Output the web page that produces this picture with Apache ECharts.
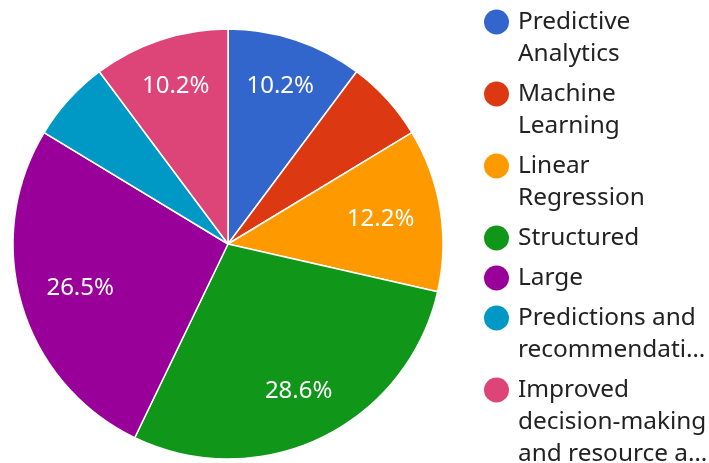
<!DOCTYPE html>
<html>
<head>
<meta charset="utf-8">
<script src="https://cdn.jsdelivr.net/npm/echarts@6/dist/echarts.min.js"></script>
<style>html,body{margin:0;padding:0;background:#fff;}#c{width:709px;height:463px;}</style>
</head>
<body>
<div id="c"></div>
<script>
var categories = ['Predictive Analytics', 'Machine Learning', 'Linear Regression', 'Structured', 'Large', 'Predictions and recommendations', 'Improved decision-making and resource allocation'];
var values = [5, 3, 6, 14, 13, 3, 5];
var legendLines = [
  ['Predictive', 'Analytics'],
  ['Machine', 'Learning'],
  ['Linear', 'Regression'],
  ['Structured'],
  ['Large'],
  ['Predictions and', 'recommendati\u2026'],
  ['Improved', 'decision-making', 'and resource a\u2026']
];
var colors = ['#3366cc', '#dc3912', '#ff9900', '#109618', '#990099', '#0099c6', '#dd4477'];

var FONT = '"Noto Sans", sans-serif';
var CX = 228, CY = 244, R = 215;
var total = values.reduce(function (a, b) { return a + b; }, 0);
var data = categories.map(function (c, i) { return { name: c, value: values[i] }; });

var rich = {
  g: { width: 9, height: 25 },
  i: { width: 34, height: 25 },
  t: { fontSize: 24.4, lineHeight: 32, color: '#222222', fontFamily: FONT }
};
colors.forEach(function (c, i) {
  rich['d' + i] = { width: 25, height: 25, borderRadius: 12.5, backgroundColor: c };
});

var chart = echarts.init(document.getElementById('c'), null, { renderer: 'canvas' });
chart.setOption({
  animation: false,
  color: colors,
  legend: {
    orient: 'vertical',
    left: 478,
    top: 6,
    height: 800,
    padding: 0,
    itemGap: 8,
    itemWidth: 0,
    itemHeight: 0,
    icon: 'circle',
    selectedMode: false,
    data: categories,
    formatter: function (name) {
      var idx = categories.indexOf(name);
      return legendLines[idx].map(function (l, k) {
        return k === 0 ? '{d' + idx + '|}{g|}{t|' + l + '}' : '{i|}{t|' + l + '}';
      }).join('\n');
    },
    textStyle: { rich: rich, fontFamily: FONT, fontSize: 24.4, lineHeight: 32 }
  },
  series: [
    {
      type: 'pie',
      center: [CX, CY],
      radius: [0, R],
      startAngle: 90,
      clockwise: true,
      data: data,
      labelLine: { show: false },
      label: {
        show: true,
        position: 'inside',
        color: '#ffffff',
        fontSize: 24,
        fontFamily: FONT,
        formatter: function (p) {
          var pct = values[p.dataIndex] / total * 100;
          return pct < 8 ? '' : pct.toFixed(1) + '%';
        }
      },
      labelLayout: function (p) {
        var r = p.labelRect;
        if (!r || !r.width) return {};
        var lx = r.x + r.width / 2, ly = r.y + r.height / 2;
        var dx = lx - CX, dy = ly - CY;
        var n = Math.sqrt(dx * dx + dy * dy) || 1;
        var ux = dx / n, uy = dy / n;
        var hw = r.width / 2, hh = 12;
        var b = Math.abs(ux) * hw + Math.abs(uy) * hh;
        var c = hw * hw + hh * hh - 190 * 190;
        var d = -b + Math.sqrt(b * b - c);
        return { x: CX + ux * d, y: CY + uy * d };
      },
      itemStyle: { borderColor: '#ffffff', borderWidth: 1.5 },
      emphasis: { disabled: true }
    }
  ]
});
</script>
</body>
</html>
